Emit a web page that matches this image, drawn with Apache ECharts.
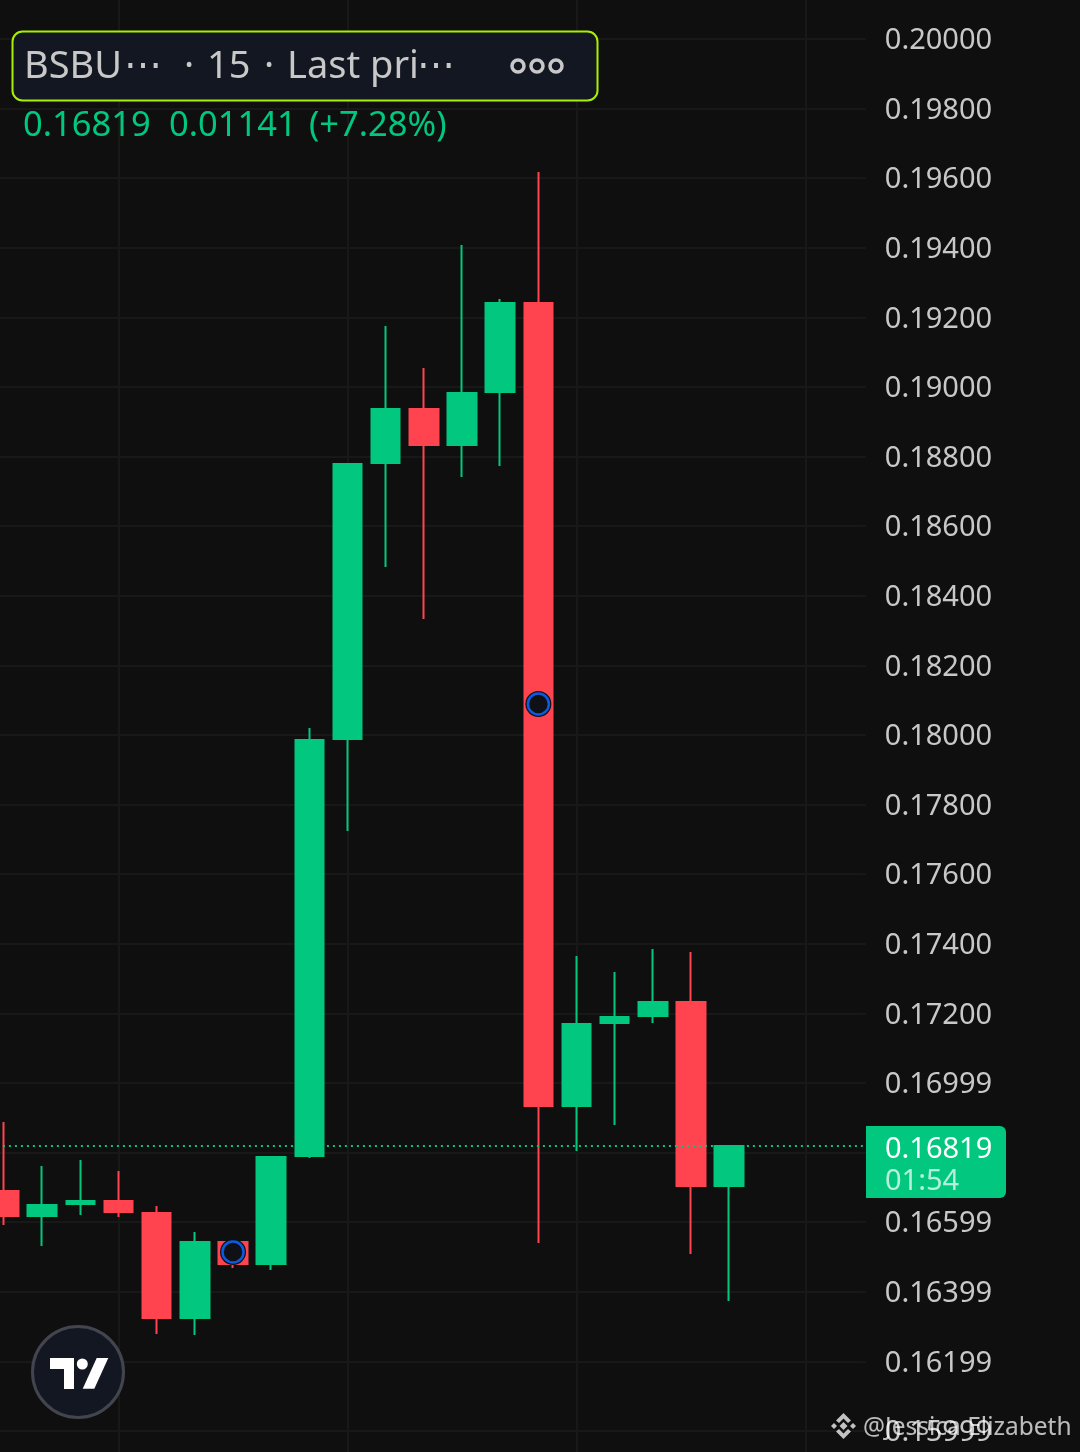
<!DOCTYPE html>
<html>
<head>
<meta charset="utf-8">
<style>html,body{margin:0;padding:0;background:#0f0f0f}#c{width:1080px;height:1452px}</style>
<script src="https://cdn.jsdelivr.net/npm/echarts@6/dist/echarts.min.js"></script>
</head>
<body>
<div id="c"></div>
<script>
const categories = ['c01','c02','c03','c04','c05','c06','c07','c08','c09','c10','c11','c12','c13','c14','c15','c16','c17','c18','c19','c20','c21','c22','c23'];
const opens  = [.166896,.166178,.166523,.166609,.166264,.163247,.165431,.164799,.167903,.179885,.187816,.189368,.188334,.189857,.192414,.169339,.171724,.171926,.172327,.167040];
const closes = [.166178,.166494,.166609,.166293,.163247,.165431,.164799,.167873,.179856,.187787,.189368,.188334,.189827,.192414,.169339,.171695,.171896,.172327,.167040,.168190];
const lows   = [.165920,.165316,.166207,.166149,.162787,.162759,.164684,.164626,.167845,.177241,.184828,.183333,.187414,.187730,.165402,.168046,.168793,.171724,.165086,.163736];
const highs  = [.168879,.167615,.167787,.167471,.166466,.165718,.165460,.167902,.180201,.187816,.191753,.190546,.194080,.192529,.196178,.173649,.173190,.173851,.173764,.168190];
const markerPoints = [['c07',.165144],['c15',.180891]];
const lastPrice = .16819;
const yTickValues = [.158,.160,.162,.164,.166,.168,.170,.172,.174,.176,.178,.180,.182,.184,.186,.188,.190,.192,.194,.196,.198,.200,.202];
const yTickLabels = ['','0.15999','0.16199','0.16399','0.16599','0.16799','0.16999','0.17200','0.17400','0.17600','0.17800','0.18000','0.18200','0.18400','0.18600','0.18800','0.19000','0.19200','0.19400','0.19600','0.19800','0.20000',''];
const verticalGridCategories = ['c04','c10','c16','c22'];

const GREEN='#02c77e', RED='#ff4450', BG='#0f0f0f', GRID='#181818', TXT='#c8c8c8', FONT='"Noto Sans"';
const candleData = categories.map((c,i)=> i<opens.length ? [opens[i],closes[i],lows[i],highs[i]] : '-');

function txt(x,y,text,size,fill,extra){
  return Object.assign({type:'text',z:100,x:x,y:y,style:{text:text,font:size+'px '+FONT,fill:fill,textVerticalAlign:'middle',textAlign:'left'}},extra||{});
}
function poly(points,fill,opacity){return {type:'polygon',z:101,shape:{points:points},style:{fill:fill,opacity:opacity==null?1:opacity}};}
function dia(cx,cy,r,fill,o){return poly([[cx,cy-r],[cx+r,cy],[cx,cy+r],[cx-r,cy]],fill,o);}

const graphics = [
  {type:'rect',z:99,shape:{x:12.5,y:31.5,width:585,height:69,r:10},style:{fill:'#131722',stroke:'#a9f000',lineWidth:2}},
  txt(24,67.5,'BSBU',38,TXT),
  txt(124,67.5,'⋯',38,TXT),
  txt(184,67.5,'·',38,TXT),
  txt(207,67.5,'15',38,TXT),
  txt(264,67.5,'·',38,TXT),
  txt(287,67.5,'Last pri',38,TXT),
  txt(417,67.5,'⋯',38,TXT),
  {type:'circle',z:100,shape:{cx:518,cy:66,r:6},style:{fill:'none',stroke:TXT,lineWidth:3.5}},
  {type:'circle',z:100,shape:{cx:537,cy:66,r:6},style:{fill:'none',stroke:TXT,lineWidth:3.5}},
  {type:'circle',z:100,shape:{cx:556,cy:66,r:6},style:{fill:'none',stroke:TXT,lineWidth:3.5}},
  txt(23,126,'0.16819',34.5,GREEN),
  txt(169,126,'0.01141',34.5,GREEN),
  txt(309,126,'(+7.28%)',34.5,GREEN),
  {type:'rect',z:99,shape:{x:866,y:1126,width:140,height:72,r:[0,6,6,0]},style:{fill:GREEN}},
  txt(885,1150,'0.16819',29,'#ffffff'),
  txt(885,1182,'01:54',29,'#b6f0da'),
  {type:'circle',z:99,shape:{cx:78,cy:1372,r:45.5},style:{fill:'#131722',stroke:'#42454e',lineWidth:3}},
  poly([[50,1358],[74,1358],[74,1389],[64,1389],[64,1369],[50,1369]],'#ffffff'),
  {type:'circle',z:101,shape:{cx:82.3,cy:1364,r:5.5},style:{fill:'#ffffff'}},
  poly([[96.7,1358],[108.3,1358],[94.3,1388.7],[82.7,1388.7]],'#ffffff'),
  dia(843.5,1426,4,'#ffffff',.75),
  dia(834,1426,3,'#ffffff',.75),
  dia(853,1426,3,'#ffffff',.75),
  poly([[843.5,1413],[851,1420.5],[848,1423],[843.5,1418.5],[839,1423],[836,1420.5]],'#ffffff',.75),
  poly([[843.5,1439],[851,1431.5],[848,1429],[843.5,1433.5],[839,1429],[836,1431.5]],'#ffffff',.75),
  txt(863,1428,'@Jessica Elizabeth',24.5,'rgba(255,255,255,0.72)')
];

const chart = echarts.init(document.getElementById('c'),null,{renderer:'canvas',width:1080,height:1452});
chart.setOption({
  backgroundColor:BG,
  animation:false,
  grid:{left:-15.08,top:-30.6,width:877.9,height:1531.2,outerBoundsMode:'none'},
  xAxis:{type:'category',data:categories,boundaryGap:true,
    axisLine:{show:false},axisTick:{show:false},axisLabel:{show:false},
    splitLine:{show:true,alignWithLabel:true,lineStyle:{color:GRID,width:2},
      interval:(i,v)=>verticalGridCategories.includes(v)}},
  yAxis:{type:'value',position:'right',min:.158,max:.202,interval:.002,
    axisLine:{show:false},
    axisTick:{show:true,length:3.2,lineStyle:{color:GRID,width:2}},
    splitLine:{show:true,lineStyle:{color:GRID,width:2}},
    axisLabel:{show:true,margin:22,align:'left',verticalAlign:'top',lineHeight:4,color:TXT,fontFamily:FONT,fontSize:29,
      showMinLabel:true,showMaxLabel:true,
      formatter:(v)=>{let b=0;yTickValues.forEach((t,i)=>{if(Math.abs(t-v)<Math.abs(yTickValues[b]-v))b=i;});return yTickLabels[b];}}},
  series:[
    {type:'candlestick',data:candleData,barWidth:29,
      itemStyle:{color:GREEN,color0:RED,borderColor:GREEN,borderColor0:RED,borderWidth:2},
      markLine:{silent:true,symbol:'none',precision:5,label:{show:false},
        lineStyle:{color:GREEN,type:[2,4],width:2},
        data:[{yAxis:lastPrice}]},z:3},
    {type:'scatter',data:markerPoints,symbol:'circle',symbolSize:26,itemStyle:{color:'#101218',opacity:1},z:4,silent:true},
    {type:'scatter',data:markerPoints,symbol:'circle',symbolSize:21,itemStyle:{color:'#0f1116',borderColor:'#0b5be0',borderWidth:2.5,opacity:1},z:5,silent:true}
  ],
  graphic:graphics
});
</script>
</body>
</html>
